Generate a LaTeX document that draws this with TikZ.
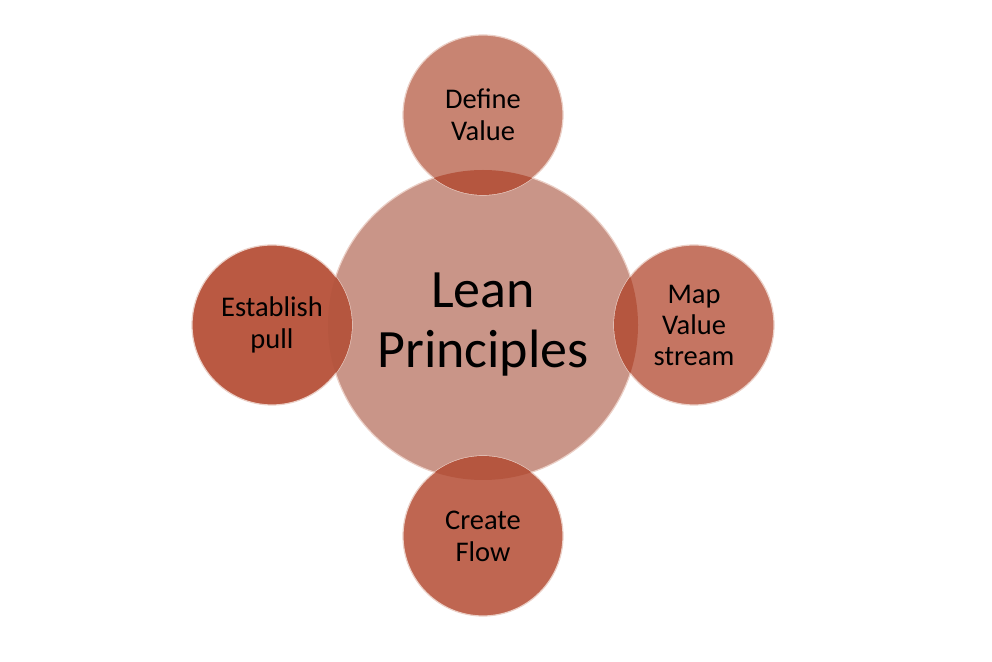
\documentclass[tikz,border=0pt]{standalone}
\usepackage{fontspec}
\setmainfont{Carlito}
\usepackage{tikz}
\usetikzlibrary{calc}
\definecolor{leanCentre}{HTML}{C99588}
\definecolor{leanTop}{HTML}{C88472}
\definecolor{leanRight}{HTML}{C57562}
\definecolor{leanBottom}{HTML}{BF6651}
\definecolor{leanLeft}{HTML}{BA5942}
\definecolor{leanOverlap}{HTML}{B5563F}
\definecolor{leanRim}{HTML}{EBCFC6}

\begin{document}
\begin{tikzpicture}[x=1pt, y=1pt]
  \useasboundingbox (0,0) rectangle (992,661);
  \fill[white] (0,0) rectangle (992,661);
%
  \node[color=black, circle, fill=leanCentre, draw=leanRim, line width=1.2, %
        inner sep=0, minimum size=310, align=center, %
        font=\fontsize{54}{60}\selectfont] (Lean) at (483,336) {Lean\\Principles};
%
  \node[color=black, circle, fill=leanTop, draw=leanRim, line width=1.2, %
        inner sep=0, minimum size=160, align=center, above of=Lean, %
        node distance=210, font=\fontsize{28.5}{32}\selectfont] (Define) %
       {Define\\Value};
  \node[color=black, circle, fill=leanRight, draw=leanRim, line width=1.2, %
        inner sep=0, minimum size=160, align=center, right of=Lean, %
        node distance=211, font=\fontsize{28.5}{31}\selectfont] (Map) %
       {Map\\Value\\stream};
  \node[color=black, circle, fill=leanBottom, draw=leanRim, line width=1.2, %
        inner sep=0, minimum size=160, align=center, below of=Lean, %
        node distance=211, font=\fontsize{28.5}{32}\selectfont] (Create) %
       {Create\\Flow};
  \node[color=black, circle, fill=leanLeft, draw=leanRim, line width=1.2, %
        inner sep=0, minimum size=160, align=center, left of=Lean, %
        node distance=211, font=\fontsize{28.5}{32}\selectfont] (Pull) %
       {Establish\\pull};
%
  \begin{scope}
    \clip (Lean.center) circle (155);
    \fill[leanOverlap] (Define.center) circle (80);
    \fill[leanOverlap] (Map.center) circle (80);
    \fill[leanOverlap] (Create.center) circle (80);
    \fill[leanOverlap] (Pull.center) circle (80);
  \end{scope}
\end{tikzpicture}
\end{document}
